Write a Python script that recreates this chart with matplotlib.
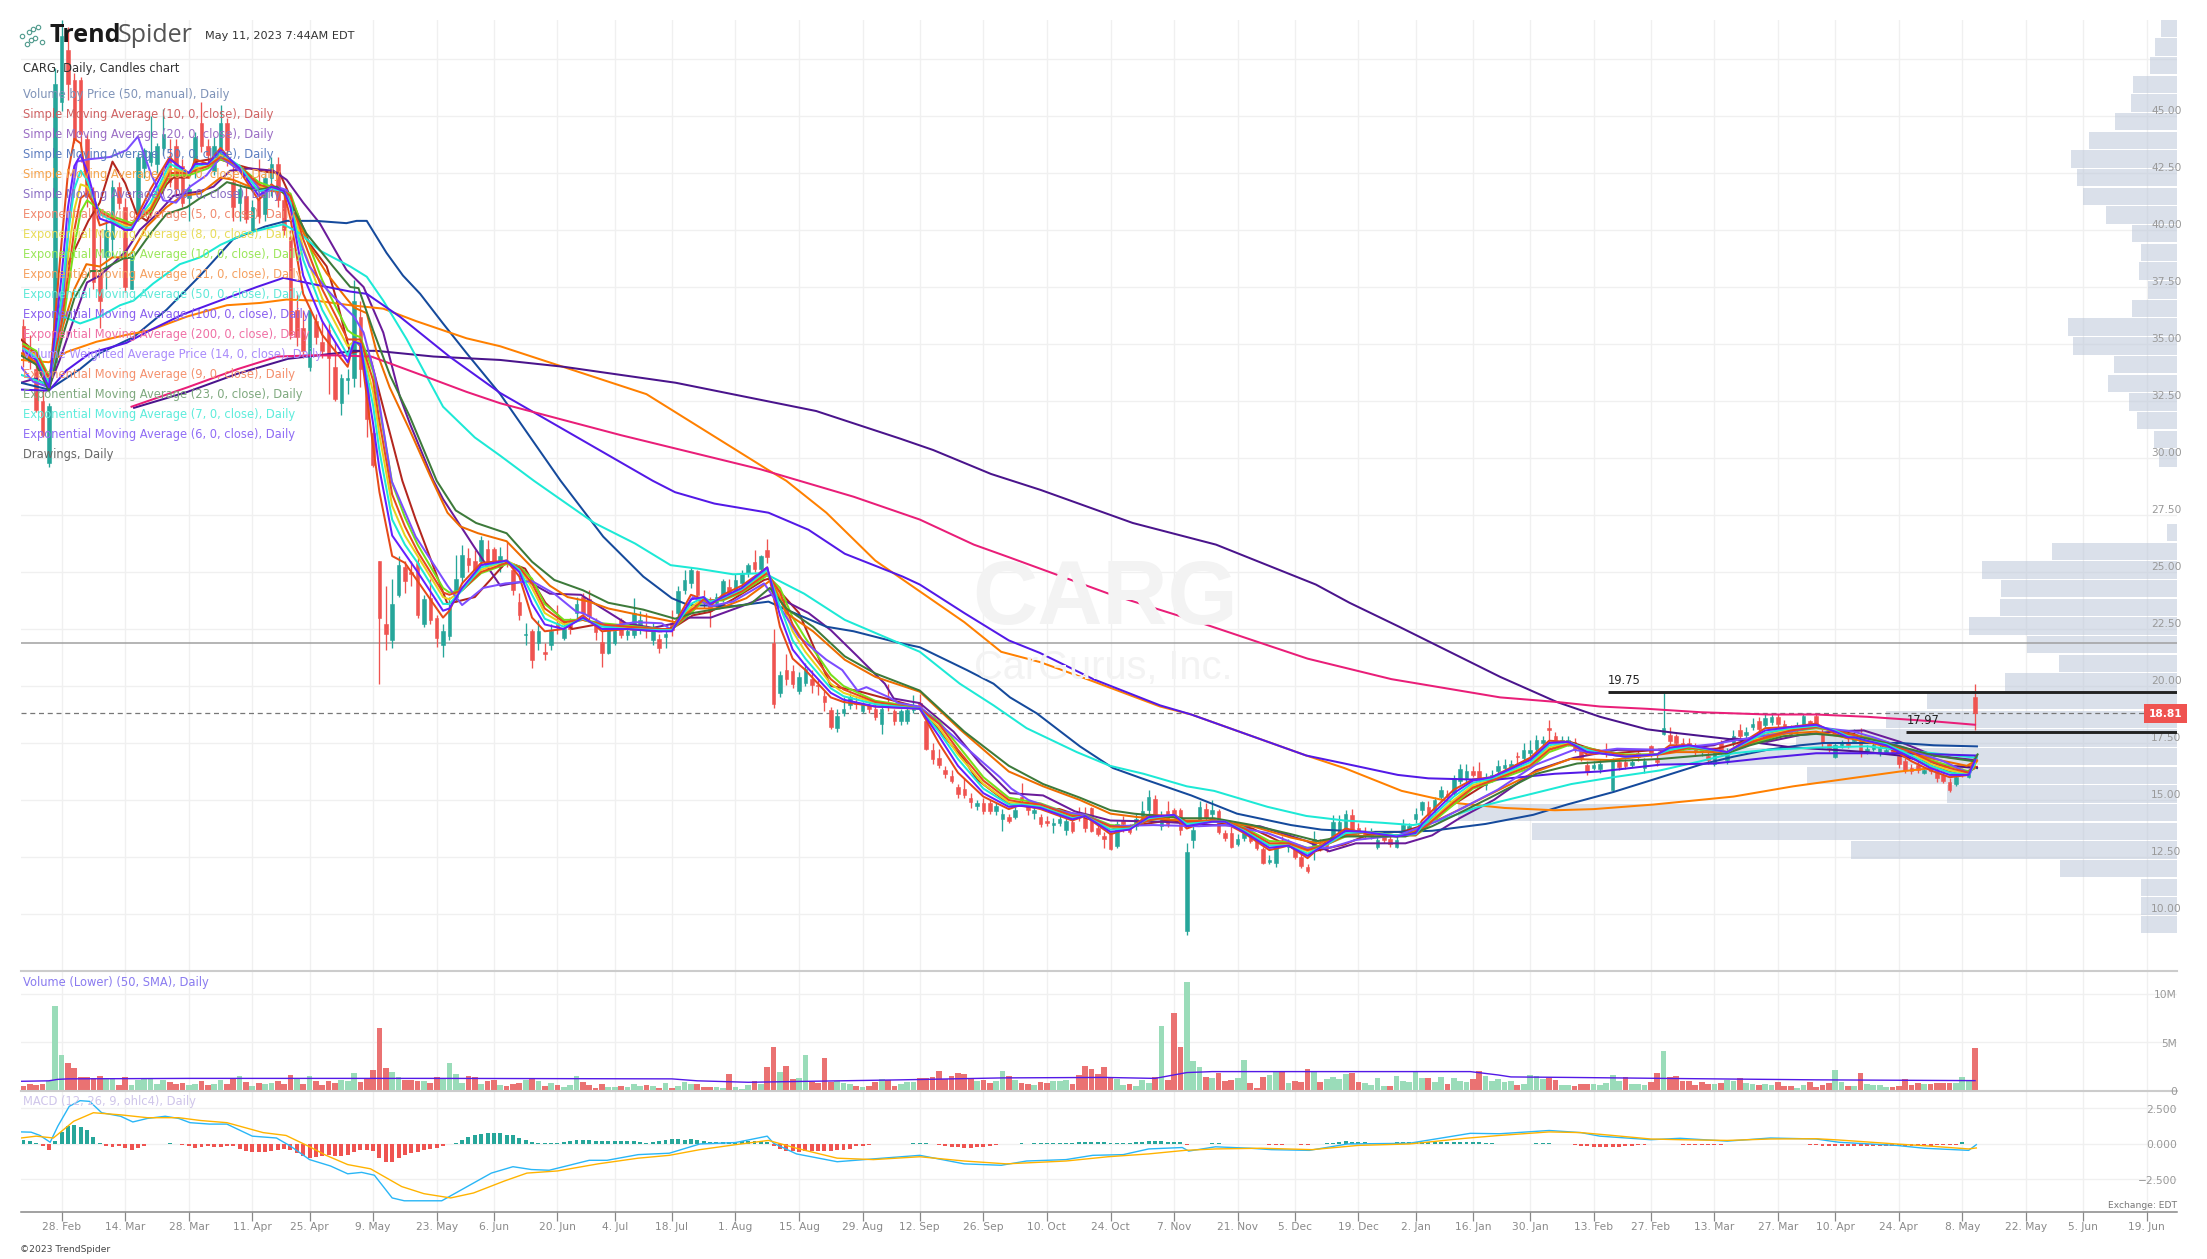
import numpy as np
import matplotlib
matplotlib.use("Agg")
import matplotlib.pyplot as plt

# bars are indexed by trading day, 0 = 28 Feb 2022
first_bar = -6
tick_pos = [0,10,20,30,39,49,59,68,78,87,96,106,116,126,135,145,155,165,175,185,194,204,213,222,231,241,250,260,270,279,289,299,309,318,328]
tick_labels = ["28. Feb","14. Mar","28. Mar","11. Apr","25. Apr","9. May","23. May","6. Jun","20. Jun","4. Jul","18. Jul","1. Aug","15. Aug","29. Aug","12. Sep","26. Sep","10. Oct","24. Oct","7. Nov","21. Nov","5. Dec","19. Dec","2. Jan","16. Jan","30. Jan","13. Feb","27. Feb","13. Mar","27. Mar","10. Apr","24. Apr","8. May","22. May","5. Jun","19. Jun"]
price_ticks = [10,12.5,15,17.5,20,22.5,25,27.5,30,32.5,35,37.5,40,42.5,45,47.5]

# open, high, low, close
candles_feb_apr = [
(35.8,36.1,34.0,34.6),(34.6,35.4,33.9,34.2),(33.9,34.2,32.0,32.1),(32.5,33.0,30.9,31.0),(29.8,32.4,29.6,32.3),(34.2,47.1,33.8,46.4),
(45.6,49.2,45.2,48.5),(47.9,48.9,45.7,46.4),(46.6,46.9,43.8,44.0),(46.6,46.7,43.0,44.2),(44.0,44.2,41.0,41.5),(41.7,41.9,37.4,37.7),
(38.1,40.0,35.7,36.9),(38.8,40.5,37.4,40.0),(39.6,42.2,38.8,41.9),(41.9,42.1,40.9,41.2),(41.0,41.4,37.3,37.5),(37.4,39.0,37.4,38.8),
(40.7,43.4,40.4,43.2),(42.7,43.6,42.3,43.5),(43.0,45.0,42.8,43.4),(42.9,43.8,42.5,43.7),(43.6,45.3,43.3,44.2),(43.2,44.0,41.9,42.1),
(43.7,44.0,41.5,41.8),(42.8,43.1,41.0,41.2),(41.4,42.0,40.4,41.8),(42.6,44.3,42.3,44.1),(44.7,45.6,43.4,43.7),(43.7,44.0,43.0,43.3),
(42.6,44.1,42.4,43.7),(43.6,45.5,43.3,44.7),(44.7,44.9,42.8,43.5),(42.1,43.0,40.4,41.0),(41.2,42.0,40.4,41.8),(41.5,41.9,40.3,40.5),
(40.0,41.3,39.8,41.0),(41.3,43.1,40.3,40.6),(40.7,42.5,40.4,42.3),(42.3,43.2,41.5,42.9),(42.9,43.2,41.0,41.3),(41.3,41.5,39.8,40.0),
(39.7,40.0,35.2,35.4),(36.5,37.2,34.9,35.3),(35.7,36.5,34.4,34.7)]
candles_apr_jun = [
(34.0,36.6,33.8,36.5),(36.0,36.3,35.0,35.3),(35.1,36.0,34.4,34.7),(35.6,35.9,32.8,34.4),(34.0,35.1,32.5,32.6),(32.4,33.7,31.9,33.5),
(33.4,33.9,32.8,33.5),(33.5,37.8,33.1,36.9),(36.2,36.9,33.1,33.9),(33.3,33.6,30.9,31.7),(31.1,31.4,29.6,29.7),(25.5,25.5,20.1,23.0),
(22.7,24.4,21.6,22.3),(22.0,24.7,21.65,23.6),(24.0,25.7,23.9,25.3),(25.2,25.5,24.1,24.6),(25.0,25.5,24.4,24.9),(25.4,25.6,23.0,23.1),
(22.7,24.0,22.6,23.8),(23.85,24.7,22.7,22.9),(23.0,23.1,21.7,22.1),(21.8,22.7,21.25,22.4),(22.2,23.9,22.0,23.4),(23.9,25.75,23.7,24.7),
(24.8,26.2,24.5,25.75),(25.6,26.05,25.0,25.3),(25.5,25.95,24.8,25.1),(25.5,26.6,25.3,26.4),(26.0,26.4,25.2,25.4),(26.0,26.1,25.3,25.5),
(25.2,26.1,25.0,25.7),(25.5,26.3,25.2,25.4),(25.1,25.4,24.0,24.2),(23.7,24.1,22.9,23.1),(22.25,22.75,21.8,22.3),(22.4,22.5,20.8,21.15),
(21.9,22.9,21.6,22.4),(21.5,21.9,21.15,21.4),(21.8,22.7,21.6,22.4),(22.75,23.55,22.3,22.6)]
candles_jun_aug = [
(22.1,22.9,22.0,22.5),(22.75,23.0,22.3,22.5),(23.2,23.9,23.0,23.6),(23.9,24.1,23.0,23.2),(23.8,24.2,22.9,23.05),(22.75,23.0,22.0,22.35),
(21.95,22.4,20.85,21.45),(21.45,22.6,21.4,22.45),(21.9,22.7,21.8,22.4),(22.9,23.0,22.1,22.25),(22.25,22.6,22.0,22.4),(22.25,23.85,22.1,23.2),
(22.6,23.3,22.3,22.9),(22.6,23.2,22.1,22.45),(22.0,22.8,21.8,22.6),(22.05,22.3,21.45,21.65),(22.15,22.5,21.65,22.3),(22.75,23.35,22.2,22.45),
(23.2,24.4,23.0,24.15),(24.2,25.1,24.05,24.65),(24.5,25.2,24.3,25.1),(25.05,25.1,23.8,24.0),(23.8,24.2,23.4,23.65),(23.5,23.9,22.6,23.3),
(23.65,24.1,23.5,23.9),(23.9,24.7,23.7,24.6),(24.35,24.7,23.9,24.05),(24.2,24.9,24.1,24.65),(24.5,25.1,24.3,24.9),(24.95,25.4,24.8,25.3),
(25.45,25.95,25.0,25.15),(25.15,25.75,25.0,25.7),(25.95,26.45,25.4,25.65)]
candles_aug_oct = [
(21.9,22.5,19.05,19.2),(19.7,20.65,19.5,20.5),(20.7,21.4,20.05,20.3),(20.65,20.9,19.9,20.1),(19.8,20.6,19.65,20.4),(20.15,21.0,20.0,20.75),
(20.3,20.7,19.7,20.05),(20.05,20.3,19.6,20.0),(19.55,19.8,18.9,19.3),(18.95,19.1,18.1,18.2),(18.15,19.0,18.0,18.7),(18.8,19.5,18.7,19.0),
(19.15,19.7,19.0,19.5),(19.3,19.5,19.0,19.2),(18.9,19.3,18.8,19.15),(19.15,19.3,18.8,19.0),(19.0,19.2,18.5,18.65),(18.35,19.2,17.9,19.0),
(19.25,20.1,18.9,19.1),(18.9,19.0,18.3,18.45),(18.45,19.0,18.3,18.9),(18.45,19.1,18.35,18.95),(18.95,19.6,18.8,19.15),(19.25,19.65,19.0,19.1),
(18.45,18.5,17.2,17.25),(17.2,17.5,16.6,16.8),(16.85,17.25,16.4,16.55),(16.3,16.5,15.95,16.15),(16.05,16.3,15.75,15.85),(15.55,15.7,15.1,15.25),
(15.5,15.95,15.1,15.2),(15.1,15.3,14.65,14.9),(14.75,15.0,14.55,14.85),(14.85,15.1,14.4,14.5),(14.85,15.0,14.4,14.5),(14.5,14.9,14.35,14.75),
(14.15,14.6,13.65,14.4),(14.25,14.4,14.0,14.1),(14.25,14.7,14.15,14.55),(15.15,15.75,14.8,15.0),(14.7,15.0,14.35,14.55),(14.45,14.8,14.15,14.55),
(14.25,14.4,13.8,13.95),(14.1,14.3,13.85,14.0),(13.9,14.2,13.55,14.0),(14.0,14.35,13.85,14.15),(13.7,14.3,13.45,14.1),(14.05,14.2,13.55,13.65)]
candles_oct_jan = [
(14.4,14.7,14.1,14.25),(14.25,14.7,13.6,13.75),(14.65,14.7,13.6,13.65),(13.75,13.9,13.4,13.5),(13.4,13.6,12.9,13.3),(13.5,13.6,12.8,12.85),
(13.0,14.1,12.9,13.95),(14.1,14.3,13.6,13.95),(13.75,13.95,13.5,13.6),(13.85,14.4,13.7,14.15),(14.2,14.95,14.0,14.5),(14.55,15.45,14.4,15.15),
(15.05,15.2,14.2,14.4),(13.85,14.5,13.7,14.15),(14.5,14.95,13.8,13.95),(14.55,14.65,14.2,14.35),(14.55,14.65,13.45,13.7),(9.25,13.1,9.1,12.7),
(13.25,13.9,12.9,13.7),(14.05,14.95,13.9,14.7),(14.6,14.85,14.0,14.2),(14.4,15.0,14.2,14.55),(14.5,14.6,13.5,13.6),(13.55,13.7,13.2,13.35),
(13.55,13.9,12.9,12.95),(13.05,13.5,13.0,13.3),(13.35,13.7,13.2,13.55),(13.55,13.7,13.1,13.2),(13.2,13.3,12.8,12.9),(12.85,12.95,12.2,12.25),
(12.3,12.6,12.2,12.35),(12.25,13.0,12.05,12.9),(13.25,13.4,13.0,13.1),(12.95,13.3,12.7,13.1),(12.85,13.1,12.4,12.5),(12.5,12.7,12.0,12.1),
(12.05,12.2,11.8,11.9),(12.75,13.65,12.35,13.3),(13.1,13.3,12.75,12.9),(13.1,13.3,12.7,12.85),(13.4,14.35,13.2,14.05),(13.55,14.35,13.4,14.05),
(13.6,14.55,13.45,14.4),(14.35,14.6,13.5,13.6),(13.75,14.0,13.4,13.55),(13.6,13.8,13.3,13.45),(13.4,13.75,13.3,13.6),(12.95,13.4,12.85,13.25),
(13.45,13.55,13.1,13.25),(13.3,13.4,12.95,13.05),(12.95,13.4,12.9,13.25),(13.55,14.15,13.45,13.9),(13.6,14.0,13.45,13.85),(14.15,14.65,14.0,14.4)]
candles_jan_mar = [
(14.55,14.95,14.35,14.9),(14.7,14.95,14.2,14.35),(14.55,15.15,14.4,15.0),(15.15,15.6,15.0,15.45),(15.25,15.45,15.0,15.15),(15.3,16.1,15.2,15.95),
(15.85,16.6,15.7,16.35),(15.95,16.6,15.8,16.25),(16.25,16.5,16.0,16.1),(16.25,16.65,15.8,15.95),(15.65,16.2,15.45,15.9),(15.95,16.3,15.8,16.1),
(16.25,16.75,16.1,16.5),(16.4,16.8,16.25,16.55),(16.4,16.75,16.3,16.6),(16.95,17.1,16.6,16.9),(16.85,17.5,16.7,17.2),(17.05,17.65,16.9,17.2),
(17.25,17.85,17.1,17.65),(17.5,17.8,17.4,17.65),(18.15,18.5,17.6,18.05),(17.8,18.0,17.5,17.65),(17.5,17.8,17.4,17.65),(17.5,17.8,17.35,17.65),
(17.55,17.7,17.1,17.25),(17.2,17.3,16.7,16.85),(16.55,16.7,16.1,16.25),(16.4,16.7,16.3,16.55),(16.35,16.8,16.2,16.6),(17.2,17.5,16.9,17.05),
(15.45,16.85,15.35,16.7),(16.65,16.8,16.3,16.45),(16.65,16.8,16.35,16.5),(16.55,16.8,16.45,16.65),(17.05,17.2,16.7,16.9),(16.4,16.85,16.2,16.7),
(17.35,17.4,16.9,17.05),(16.75,17.0,16.5,16.65),(17.9,19.7,17.85,18.15),(17.85,18.2,17.45,17.6),(17.8,17.9,17.35,17.5),(17.5,17.7,17.2,17.35),
(17.5,17.7,17.25,17.35),(17.35,17.5,16.95,17.1),(17.1,17.3,16.95,17.2),(16.95,17.1,16.6,16.75),(16.6,17.2,16.5,17.05),(17.5,17.65,17.0,17.1)]
candles_mar_may = [
(16.75,17.3,16.6,17.1),(17.5,18.05,17.35,17.8),(18.05,18.35,17.65,17.8),(17.85,18.2,17.7,18.0),(18.2,18.6,18.05,18.35),(18.45,18.65,17.95,18.1),
(18.3,18.75,18.2,18.6),(18.4,18.75,18.3,18.65),(18.65,18.75,18.2,18.35),(18.35,18.5,18.0,18.15),(18.2,18.3,17.8,17.9),(18.05,18.4,17.9,18.3),
(18.35,18.8,18.25,18.7),(18.45,18.5,18.15,18.3),(18.7,18.8,18.2,18.3),(17.85,18.1,17.3,17.5),(17.45,17.55,17.1,17.3),(16.9,17.5,16.85,17.4),
(17.4,17.65,17.3,17.55),(17.55,17.7,17.3,17.4),(17.6,18.1,17.5,17.75),(17.7,18.15,16.9,17.1),(17.1,17.4,17.0,17.25),(17.25,17.55,17.15,17.4),
(17.1,17.45,16.95,17.3),(17.1,17.35,17.0,17.2),(17.35,17.45,17.0,17.1),(16.95,17.1,16.4,16.6),(16.7,16.85,16.2,16.3),(16.4,16.6,16.15,16.25),
(16.55,16.7,16.2,16.3),(16.2,16.45,16.15,16.3),(16.4,16.5,16.15,16.25),(16.25,16.4,15.8,15.95),(16.1,16.25,15.75,15.85),(15.8,15.95,15.35,15.45),
(15.7,16.1,15.6,16.0),(16.3,16.4,16.0,16.1),(16.0,16.35,15.95,16.15),(19.5,20.1,18.07,18.81)]

# volume in millions, split by stretch of the chart
vol_1 = [.5,.7,.65,.75,1.0,8.8,3.7,2.9,2.4,1.45, 1.45,1.3,1.55,1.3,1.3,.6,1.45,.6,1.15,1.25, 1.3,.7,1.1,.9,.75,.8,.6,.7,1.0,.6, .7,1.1,.7,1.25,1.55,.9,.5,.8,.75,.85,
         1.0,.75,1.65,1.3,.7,1.55,1.0,.6,1.0,.85, 1.1,1.0,1.85,.9,1.25,2.2,6.5,2.4,2.0,1.45, 1.15,1.15,1.05,1.05,.85,1.45,1.25,2.9,1.75,.85, 1.55,1.45,.7,1.05,1.15,.6,.5,.7,.85,1.15]
vol_2 = [1.25,1.05,.5,.85,.6,.45,.6,1.55,.9,.6, .3,.7,.4,.4,.5,.4,.7,.5,.6,.5, .3,.85,.3,.5,.9,.7,.7,.4,.4,.4, .3,1.75,.4,.2,.6,1.05,.7,2.5,4.55,2.0,
         2.6,1.25,1.35,3.7,.9,.85,3.4,.9,1.05,.85, .7,.5,.4,.5,.9,1.25,1.15,.5,.7,.9, .9,1.35,1.35,1.45,2.05,1.25,1.55,1.85,1.75,1.25, 1.05,1.15,.85,1.05,2.05,1.55,1.15,.85,.7,.6]
vol_3 = [.9,.85,1.05,1.05,1.15,.7,1.65,2.6,2.3,1.75, 2.5,1.35,1.25,.6,.7,.5,1.15,.85,1.45,6.7, 1.15,8.0,4.55,11.2,3.1,2.5,1.45,1.35,1.85,1.05, 1.15,1.35,3.2,.85,.3,1.45,1.65,2.0,2.05,.85,
         1.05,.9,2.3,2.05,.9,1.25,1.45,1.25,1.75,1.85, .9,.85,.6,1.35,.5,.5,1.55,1.05,.9,2.05, 1.35,1.35,.9,1.45,.7,1.35,1.05,.9,1.25,2.05, 1.55,1.05,1.25]
vol_4 = [.93,1.03,.62,.72,1.66,1.55,1.24,1.34,1.14,.62, .62,.52,.72,.72,.72,.62,.83,1.66,1.03,1.45, .72,.72,.62,.93,1.86,4.14,1.45,1.55,1.03,1.03, .62,.93,.72,.72,.83,1.14,1.03,1.34,.83,.72,
         .62,.72,.62,.93,.52,.52,.31,.62,.93,.41, .62,.83,2.17,.93,.52,.52,1.86,.72,.62,.62, .41,.41,.52,1.24,.62,.83,.72,.72,.83,.83, .83,.83,1.45,1.03,4.45]
vol_dirs = ("rrrrgggrrr" "rrrggrrggg" "gggrrrggrr" "ggrrgrgrgg" "rrrgrgrrrr" "gggrrrrrgg" "rrrgrrgggg" "rrgrrgrrrg"
            "rgrgrgggrr" "rrggrgggrg" "rgrgggrrrg" "grgggrgrrg" "rrggrrrrgg" "grgrrgrrgg" "grrrrrrrrr" "grrggrgrrg"
            "rrgggrrrrr" "rrggrgggrg" "rrrgggrgrr" "rggrrrggrg" "rrrgrggggr" "rggggrgggg" "grggrgggrr" "ggg"
            "ggrggggrrg" "grrrgggggr" "gggrrgrrrr" "rrrgrggrgg" "rggrrrggrr" "rrggrgrggg" "grrrrrgrrr" "rgggr")
vol_sma = [(-6.4,1.0),(-2,1.05),(-.6,1.2),(1,1.25),(20,1.3),(60,1.3),(96,1.25),(100,1.05),(108,.9),(132,1.15),(148,1.35),(164,1.4),(172,1.3),(177,1.9),(181,2.0),(213,2.0),(221.6,2.0),(226,1.65),(228,1.45),(237,1.4),(255,1.28),(276,1.15),(301,1.07)]

macd_hist_1 = [.3,.2,.05,-.17,-.4,.2,.85,1.3,1.35,1.2, .95,.5,.05,-.12,-.2,-.17,-.25,-.4,-.3,-.17, -.03,0,0,.05,0,-.05,-.17,-.28,-.2,-.17, -.2,-.2,-.17,-.17,-.35,-.47,-.55,-.57,-.55,-.47,
               -.4,-.35,-.4,-.65,-.83,-1.0,-.95,-.88,-.8,-.83, -.83,-.76,-.57,-.4,-.45,-.47,-.97,-1.24,-1.3,-1.0, -.75,-.65,-.57,-.4,-.33,-.28,-.12,0,.07,.3, .5,.6,.7,.75,.75,.75,.66,.6,.43,.26]
macd_hist_2 = [.12,.1,.07,.05,.07,.12,.2,.28,.3,.26, .2,.2,.2,.2,.24,.24,.2,.12,.1,.12, .24,.28,.35,.38,.3,.38,.3,.2,.15,.17, .17,.17,.15,.2,.2,.2,.24,.17,-.12,-.33, -.47,-.5,-.55,-.47,-.47,-.47,-.47,-.47,-.45,-.42,
               -.33,-.17,-.12,-.07,0,0,.02,.02,.02,.02, .07,.1,.07,0,-.1,-.17,-.2,-.24,-.26,-.26, -.24,-.2,-.17,-.1,0,0,.02,.05,.02,.05]
macd_hist_3 = [.05,.05,.05,.05,.07,.07,.12,.17,.17,.12, .12,.05,.07,.07,.07,.12,.14,.2,.2,.19, .17,.17,.12,-.05,0,.02,.02,.07,.07,.02, .02,0,0,0,0,0,-.07,-.07,-.07,0, 0,-.07,-.07,0,.02,.07,.07,.14,.2,.17,
               .12,.12,.1,.07,.07,.05,.12,.14,.14,.14, .14,.14,.14,.17,.17,.17,.17,.17,.12,.12, .07,.05,.02,.02,.02,.02,.02,.02,.1,.05, .05,0,0,0,-.1,-.15,-.17,-.2,-.2,-.2, -.24,-.2,-.17,-.15,-.1,-.07,0,0,0,0,
               0,-.07,-.07,-.07,-.1,-.07,-.07,-.07,0,0, .02,.02,.02,.02,.02,.02,.02,0,0,0, 0,-.05,-.1,-.14,-.14,-.12,-.14,-.14,-.16,-.16, -.17,-.17,-.17,-.17,-.17,-.14,-.14,-.14,-.12,-.12, -.12,-.1,-.1,-.1,-.07,.17]
macd_line = [(-6.4,.85),(-4.8,.83),(-3.4,.6),(-1.8,.12),(-.6,1.25),(1.2,2.65),(2.9,3.05),(4.4,3.0),(6.3,2.2),(9.3,1.95),(11.2,1.55),(13.5,1.8),(16.3,1.95),(18.4,1.8),(20.2,1.5),(23.3,1.4),(26,1.4),(30,.55),(33.8,.42),(36,-.15),(39,-1.1),(42.3,-1.55),(45,-2.1),(47.2,-2.0),(49.2,-2.2),(52,-3.8),(53.9,-4.0),(59.8,-4.0),(61.2,-3.65),(67.6,-2.05),(71,-1.6),(73.9,-1.8),(76.7,-1.85),(83,-1.15),(85.8,-1.15),(90.7,-.75),(95.6,-.65),(100.4,0),(106,.1),(111,.55),(112,.05),(115.6,-.7),(122,-1.25),(127.7,-1.05),(135,-.8),(142,-1.4),(147.8,-1.5),(151.8,-1.2),(158,-1.1),(162.2,-.8),(167,-.75),(171,-.35),(176.3,-.25),(177.3,-.5),(181.5,-.2),(187,-.3),(190.3,-.4),(196.3,-.45),(202.3,0),(212,.05),(221.6,.75),(226.2,.72),(234,.95),(239,.8),(242,.55),(250,.3),(254.6,.4),(262,.2),(268.8,.42),(276,.35),(279.6,.12),(288.6,-.1),(293,-.3),(300,-.45),(301.2,-.05)]
macd_signal = [(-6.4,.42),(-4,.55),(-1.3,.42),(1.9,1.6),(5,2.2),(9.3,2.05),(13.5,1.85),(18.4,1.85),(21.9,1.65),(26,1.5),(31.7,.8),(35.3,.6),(38.8,-.15),(41.6,-.8),(45,-1.45),(48.6,-1.75),(53.5,-3.0),(57,-3.5),(61.2,-3.8),(64.8,-3.45),(69.7,-2.6),(73.2,-2.05),(78,-1.9),(84.4,-1.4),(90.7,-1.0),(95.6,-.8),(100.4,-.4),(106,-.05),(111.2,.25),(115.6,-.3),(122,-1.0),(127.7,-1.1),(135,-.9),(142,-1.2),(148.6,-1.4),(158,-1.2),(164.6,-.9),(171,-.7),(176.7,-.45),(181.5,-.35),(188.7,-.3),(196.7,-.4),(204,-.1),(212,0),(220.8,.4),(226.2,.6),(234,.85),(239,.8),(244,.6),(250,.35),(254.6,.3),(262,.25),(268.8,.35),(276,.37),(279.6,.28),(288.6,0),(293.9,-.15),(300,-.35),(301.2,-.28)]

# volume by price, rows from the bottom, width in screen px of the profile
vbp_low = 9.12
vbp_step = 0.819
vbp_width = [36,36,36,117,326,645,719,230,370,519,381,291,250,172,118,150,208,177,176,195,125,10,0,0,0,18,23,40,48,69,63,104,109,45,29,38,36,45,71,94,100,106,88,62,46,44,27,22,16]

# the short averages share these knots
fan_x = [-6,-4,-2,0,1,2,3,4,6,8, 10,11,14,17,20,21,23,25,28,31, 33,35,36,38,41,45,46,47,49,50, 52,54,56,60,61,63,66,70,72,74,
         76,79,82,85,89,94,96,99,101,102, 104,107,111,113,115,117,121,123,128,135, 138,141,145,149,151,154,159,161,165,168,
         171,175,177,181,183,186,190,193,196,199, 202,205,210,213,214,219,222,225,231,234, 237,240,242,246,251,253,256,262,268,272, 276,279,281,282,284,287,291,294,297,300, 301]
ema5 = [34.6,34.1,33.0,39.5,42.5,44.0,43.8,42.0,40.2,40.4, 40.0,40.1,41.8,43.2,42.3,43.1,42.9,43.6,42.6,41.3, 42.0,41.6,40.5,37.2,35.4,34.0,35.2,34.9,30.5,28.5, 25.7,25.4,24.6,23.0,23.3,24.5,25.4,25.5,24.8,23.0,
        22.4,22.5,23.1,22.4,22.5,22.4,22.5,24.0,23.8,23.5, 24.0,24.4,25.2,22.6,21.2,20.7,19.5,19.3,19.1,19.0, 17.5,16.2,15.15,14.6,14.8,14.6,14.1,14.3,13.5,13.75,
        14.35,14.3,13.75,14.15,14.0,13.55,12.8,13.0,12.45,13.2, 13.75,13.55,13.4,13.6,14.1,15.45,15.9,16.0,16.85,17.6, 17.55,17.0,17.05,16.9,17.0,17.4,17.4,17.1,18.15,18.2, 18.35,17.9,17.7,17.8,17.55,17.4,16.7,16.3,16.0,16.1, 16.9]
ema6 = [34.7,34.3,33.1,38.0,41.0,42.8,43.3,42.6,40.5,40.3, 40.0,40.0,41.5,43.1,42.5,42.9,42.9,43.5,42.7,41.5, 41.9,41.7,41.0,38.0,36.0,34.2,35.1,35.0,31.5,29.5, 26.6,25.8,25.0,23.3,23.4,24.3,25.3,25.5,25.0,23.6,
        22.7,22.5,23.0,22.5,22.5,22.4,22.4,23.8,23.9,23.6, 23.9,24.3,25.2,23.1,21.6,20.9,19.7,19.4,19.1,19.0, 17.8,16.5,15.3,14.7,14.75,14.65,14.15,14.3,13.6,13.7,
        14.25,14.35,13.85,14.05,14.05,13.6,12.9,13.0,12.55,13.1, 13.65,13.6,13.4,13.55,13.95,15.3,15.85,16.0,16.75,17.5, 17.55,17.1,17.05,16.9,17.0,17.3,17.4,17.1,18.05,18.2, 18.3,18.0,17.75,17.75,17.6,17.4,16.85,16.4,16.1,16.1, 16.75]
ema7 = [34.8,34.4,33.3,37.0,39.8,41.8,42.6,42.2,40.7,40.4, 40.1,40.1,41.2,42.9,42.5,42.8,42.9,43.4,42.8,41.7, 41.8,41.7,41.2,38.7,36.5,34.5,35.1,35.0,32.3,30.3, 27.3,26.2,25.4,23.6,23.6,24.2,25.2,25.5,25.1,24.0,
        22.95,22.6,22.95,22.6,22.5,22.45,22.45,23.6,23.9,23.7, 23.85,24.25,25.1,23.5,22.0,21.2,19.9,19.55,19.2,19.0, 18.0,16.8,15.5,14.8,14.8,14.7,14.2,14.3,13.7,13.75,
        14.2,14.35,13.95,14.05,14.05,13.65,13.0,13.0,12.65,13.05, 13.55,13.6,13.45,13.5,13.85,15.15,15.75,15.95,16.65,17.4, 17.55,17.2,17.05,16.9,17.0,17.2,17.35,17.1,17.95,18.15, 18.25,18.05,17.8,17.75,17.6,17.45,16.95,16.5,16.2,16.1, 16.6]
ema8 = [34.9,34.5,33.4,36.3,38.8,40.9,42.0,41.9,40.8,40.4, 40.2,40.2,41.0,42.7,42.5,42.7,42.8,43.3,42.8,41.9, 41.8,41.7,41.4,39.2,37.0,34.9,35.1,35.1,32.9,31.0, 27.9,26.6,25.7,23.9,23.8,24.2,25.1,25.5,25.2,24.3,
        23.2,22.7,22.9,22.65,22.55,22.5,22.45,23.45,23.85,23.75, 23.8,24.2,25.0,23.9,22.4,21.5,20.1,19.7,19.25,19.0, 18.2,17.0,15.7,14.9,14.85,14.75,14.25,14.3,13.8,13.75,
        14.15,14.35,14.0,14.05,14.05,13.7,13.05,13.05,12.75,13.05, 13.5,13.6,13.45,13.5,13.75,15.0,15.65,15.9,16.55,17.3, 17.5,17.25,17.1,16.9,17.0,17.15,17.3,17.1,17.85,18.1, 18.2,18.05,17.85,17.8,17.65,17.45,17.05,16.6,16.3,16.15, 16.5]
ema9 = [34.9,34.6,33.5,35.9,38.0,40.0,41.4,41.6,40.8,40.5, 40.3,40.2,40.9,42.5,42.5,42.6,42.8,43.2,42.8,42.0, 41.8,41.7,41.5,39.6,37.4,35.2,35.2,35.2,33.4,31.6, 28.4,27.0,25.9,24.1,24.0,24.2,25.0,25.4,25.2,24.5,
        23.4,22.8,22.9,22.7,22.6,22.5,22.5,23.3,23.8,23.75, 23.8,24.15,24.95,24.1,22.7,21.8,20.3,19.85,19.3,19.0, 18.35,17.2,15.85,15.0,14.9,14.8,14.3,14.3,13.85,13.8,
        14.1,14.35,14.05,14.05,14.05,13.75,13.1,13.1,12.8,13.05, 13.45,13.6,13.45,13.45,13.7,14.9,15.55,15.85,16.5,17.2, 17.45,17.25,17.15,16.95,17.0,17.1,17.3,17.1,17.75,18.05, 18.2,18.05,17.9,17.85,17.7,17.5,17.1,16.7,16.4,16.2, 16.45]
ema10 = [35.0,34.7,33.6,35.5,37.4,39.3,40.8,41.3,40.9,40.6, 40.4,40.3,40.8,42.4,42.4,42.5,42.7,43.1,42.8,42.1, 41.9,41.7,41.6,40.0,37.8,35.6,35.4,35.3,33.8,32.2, 28.9,27.4,26.2,24.3,24.1,24.2,24.95,25.35,25.25,24.7,
         23.6,22.9,22.9,22.75,22.65,22.5,22.5,23.2,23.75,23.75, 23.75,24.1,24.85,24.3,23.0,22.1,20.5,20.0,19.35,19.05, 18.45,17.4,16.0,15.1,15.0,14.85,14.35,14.35,13.9,13.85,
         14.1,14.3,14.05,14.05,14.05,13.8,13.2,13.15,12.9,13.05, 13.4,13.6,13.45,13.45,13.65,14.8,15.5,15.8,16.4,17.1, 17.4,17.3,17.15,17.0,17.0,17.1,17.25,17.1,17.65,18.0, 18.15,18.05,17.9,17.85,17.75,17.55,17.15,16.75,16.5,16.25, 16.4]

ema21 = [(-6.4,34.6),(-4,34.2),(-2,33.05),(0,35.6),(2,37.4),(3.9,38.5),(6,38.4),(8,38.8),(10,38.8),(11,39.0),(13.4,40.15),(16.5,41.0),(19,41.5),(21.8,41.6),(25,42.3),(27,42.2),(29.6,41.9),(33.3,41.7),(35,41.7),(36.4,40.9),(39,39.3),(41.7,38.1),(44.8,37.0),(46,36.6),(48,36.35),(49.5,34.7),(51.6,33.1),(54.8,31.2),(58,29.2),(60.7,27.6),(62.7,27.0),(65.5,26.7),(70,26.35),(74,25.2),(76.8,24.4),(79.6,23.9),(83,23.7),(86,23.4),(89.4,23.2),(93,23.0),(96.5,22.8),(99.3,23.4),(103.5,23.4),(107.7,23.85),(111.6,24.65),(114,23.2),(118.2,22.4),(123.2,21.15),(128,20.4),(135,19.75),(141.3,18.1),(149,16.25),(154.4,15.6),(160.2,15.0),(165,14.4),(169.3,14.25),(176.5,14.1),(181.3,14.1),(187.3,13.85),(193.4,13.35),(197.6,13.1),(201.8,13.45),(207.8,13.4),(211.4,13.45),(215.6,14.0),(220.4,14.65),(224.7,15.25),(232,16.25),(237.3,16.8),(243.6,16.75),(251.5,17.0),(254,17.1),(262,17.1),(265.6,17.55),(270.9,17.9),(276,18.0),(284,17.55),(289.2,17.2),(294.5,16.8),(299.7,16.5),(301.3,16.75)]
ema23 = [(-6.4,34.5),(-4,34.1),(-2,32.95),(0,35.2),(2,37.0),(4.5,38.2),(6,38.2),(8,38.5),(9.7,38.75),(11.3,38.8),(14,39.85),(16.5,40.7),(19.7,41.0),(21.8,41.4),(24.4,41.75),(26,42.1),(28.6,41.9),(30.7,41.75),(33.8,41.9),(35.4,41.5),(38.5,39.85),(42.7,38.4),(45.4,37.5),(46.7,37.45),(49,35.6),(51.7,33.6),(54.8,31.8),(59,29.0),(62,27.7),(65.2,27.15),(70,26.7),(74,25.45),(77.5,24.65),(82,24.2),(86,23.65),(91.5,23.35),(96.5,22.95),(99.3,23.2),(103.5,23.4),(108.4,23.6),(111.4,24.3),(114,23.4),(118.2,22.6),(123.2,21.3),(128,20.55),(135,19.8),(142,18.0),(149,16.5),(154.4,15.7),(160.2,15.1),(165,14.55),(168.7,14.4),(176.5,14.2),(181.3,14.2),(187.3,13.9),(193.4,13.5),(197.6,13.2),(201.8,13.4),(207.8,13.4),(211.4,13.4),(215.6,13.85),(220.4,14.5),(224.7,15.1),(232,16.15),(238.4,16.6),(243.6,16.7),(251.5,16.8),(262,17.05),(265.6,17.4),(270.9,17.8),(276,17.9),(284,17.7),(289.2,17.35),(294.5,16.95),(300.8,16.7),(301.4,17.0)]
sma10 = [(-6.4,35.2),(-4,34.6),(-2,33.0),(-.5,36.2),(.8,38.4),(4.2,40.4),(6,41.2),(8,43.0),(10,42.05),(11.8,40.7),(13.4,40.4),(16.5,42.0),(17.6,42.3),(20,42.3),(21.2,43.0),(24.4,43.15),(27,42.9),(29.6,42.7),(32.2,42.55),(34.3,42.5),(36.4,41.2),(39,39.4),(41.7,38.4),(43.3,36.9),(45.4,34.6),(47,34.7),(48.5,34.45),(53.6,29.0),(55.7,27.3),(60.7,23.6),(65,23.9),(70,25.45),(72.9,25.15),(76.1,23.65),(80.3,22.5),(84.2,22.7),(88.8,22.5),(94.4,22.4),(96.5,22.6),(99.3,23.1),(102,23.25),(105.6,23.8),(110.5,24.65),(111.2,24.7),(116,23.2),(121,20.0),(125,19.8),(135,19.05),(142,16.75),(144,15.9),(149.2,14.8),(153.6,14.65),(157,14.6),(162.3,14.1),(165.7,13.75),(174,14.1),(177,14.05),(181.3,14.05),(187.3,13.75),(192.2,13.1),(197,12.75),(201.8,13.05),(206.6,13.6),(210.8,13.6),(213.8,13.85),(219.2,14.85),(223.5,15.6),(228.3,16.45),(234.3,17.3),(237.3,17.55),(240.5,17.25),(244,17.05),(251,17.2),(260.4,17.25),(265.6,17.65),(269.8,18.0),(276,18.2),(278.7,18.05),(281.9,17.9),(288,17.2),(294.5,16.45),(298.7,16.1),(301.3,16.45)]
sma20 = [(-6.4,33.3),(-4,33.5),(-2,33.1),(-.3,34.3),(1.8,36.0),(4,37.7),(6,38.0),(8,38.5),(10.2,39.1),(12.3,40.0),(15,40.7),(17.6,41.5),(21.8,41.7),(23.9,41.9),(26.5,42.6),(29.6,42.7),(33.3,42.6),(35.4,42.2),(38,41.2),(40.6,40.3),(44.8,38.25),(47.5,37.5),(50.6,35.5),(53.2,32.7),(54.8,31.5),(58.5,29.0),(60,28.2),(64.9,26.1),(69,24.4),(70.8,24.5),(73.3,24.6),(76.8,24.05),(81.7,24.0),(84.5,23.5),(88.8,22.75),(93,22.55),(96.5,22.75),(98.6,23.0),(102.1,23.0),(107,23.5),(111.6,24.0),(114,23.7),(117.5,23.2),(121,22.45),(125.2,21.3),(129.5,20.1),(130.9,19.45),(135,19.25),(140.3,18.0),(144.5,16.6),(149.2,15.3),(154.4,15.2),(159.4,14.5),(165,14.1),(172.9,14.05),(181.3,13.9),(188.5,13.85),(195.8,13.2),(199.4,12.75),(203.6,13.1),(211.4,13.1),(215.6,13.45),(219.9,14.2),(225.3,15.0),(231.9,16.3),(237.9,16.85),(244.7,17.2),(252.5,17.2),(259.9,17.4),(263,17.7),(268.3,17.55),(273.5,17.85),(278.7,18.0),(283.5,18.05),(289.2,17.55),(294.5,16.95),(301,16.75)]
vwap14 = [(-6.4,34.0),(-4.5,33.35),(-2,33.1),(.2,36.9),(1.2,40.5),(2.4,43.0),(4.2,43.1),(7.6,43.2),(10.2,43.5),(12,44.1),(14,42.5),(16,41.3),(18,41.2),(20.2,41.9),(22.8,42.4),(25,43.2),(28,42.6),(30,42.2),(31.7,41.6),(33.8,41.9),(35.4,41.75),(37,39.85),(39,38.4),(41.4,37.5),(42.7,37.1),(46,36.2),(47.5,35.5),(49.3,33.6),(51.9,29.0),(55.7,26.55),(60.7,24.4),(63,23.55),(66.3,24.3),(69.8,24.5),(74,24.6),(77.5,24.05),(81,23.25),(82,23.2),(86,22.6),(90.2,22.8),(94.4,22.75),(96,22.45),(99.3,23.9),(102.1,23.5),(105.6,23.7),(110.5,24.5),(112,23.9),(116,22.15),(120.3,21.15),(122.8,20.7),(125.2,19.8),(126.6,19.95),(130.2,19.5),(131.6,19.25),(135,19.1),(144.5,16.75),(147.6,16.0),(149.4,15.5),(152.1,15.0),(157.2,14.5),(160.8,14.35),(165,13.85),(171.7,13.9),(178.9,13.85),(183.1,13.9),(189.7,13.55),(195.8,12.9),(199.4,12.9),(203.6,13.25),(210.2,13.45),(216.2,14.05),(220.4,14.65),(225.9,15.45),(231.9,16.55),(237.9,17.2),(240.5,17.1),(244.7,17.25),(251,17.2),(259.9,17.45),(264,17.65),(269.8,17.9),(276,18.2),(281.9,18.0),(285,17.75),(290.3,17.25),(296,16.7),(300.2,16.15),(301.3,16.95)]
sma50 = [(-6.4,33.3),(-2,33.0),(2.9,33.9),(6,34.6),(11.3,35.3),(16.5,36.5),(21.8,38.0),(27,39.6),(32,40.15),(35.4,40.4),(40,40.4),(44.8,40.3),(46.4,40.4),(48,40.4),(51.1,39.0),(53.7,38.0),(56.4,37.2),(60,35.9),(63.7,34.6),(69,32.8),(78.5,29.0),(85.2,26.55),(91.5,24.8),(96,23.85),(98.6,23.55),(105.6,23.5),(111.2,23.7),(114,23.35),(120.3,22.6),(124.6,22.4),(131.6,21.9),(135,21.7),(142.4,20.7),(146.6,20.1),(149.2,19.5),(153.4,18.8),(160.2,17.35),(165.4,16.4),(169.9,15.95),(177.7,15.2),(184.9,14.4),(193.4,13.9),(198.2,13.7),(205.4,13.6),(210.2,13.6),(215.6,13.65),(224,13.95),(231.5,14.35),(236.8,14.8),(244.1,15.35),(251,15.95),(257.8,16.55),(263,16.9),(268.3,17.2),(273.5,17.4),(277.2,17.5),(284,17.5),(289.2,17.5),(294.5,17.4),(301.3,17.35)]
ema50 = [(-6.4,33.65),(-2,33.2),(.3,36.2),(2.9,35.9),(6,36.2),(9.2,36.7),(11.3,36.9),(14.4,37.65),(18.6,38.5),(21.8,38.8),(25,39.35),(29,39.85),(34.9,40.25),(37.5,39.85),(40.6,39.1),(45.4,38.4),(48,37.95),(50.6,36.9),(54.3,35.2),(60,32.25),(65,30.9),(69,30.1),(74.3,29.0),(83.8,27.15),(90.2,26.25),(95.8,25.3),(100,25.15),(105.6,24.9),(110.5,24.95),(116.8,24.05),(123.2,22.9),(131.6,21.9),(135,21.5),(141.3,20.1),(146.6,19.15),(151.8,18.15),(159.7,17.1),(164.9,16.5),(170.2,16.15),(177,15.6),(181.3,15.4),(189.7,14.7),(195.8,14.3),(201.8,14.1),(207.8,14.0),(212.6,13.9),(216.8,14.1),(222.9,14.7),(231.7,15.3),(237.5,15.7),(244.1,16.0),(251.5,16.3),(257.8,16.7),(263,17.05),(268.3,17.2),(276,17.3),(284,17.35),(289.2,17.2),(294.5,17.05),(301.3,16.85)]
ema100 = [(-6.4,33.0),(-2,32.95),(.8,33.85),(4.5,34.6),(10.2,35.05),(13.9,35.6),(19.1,36.3),(24.4,36.85),(30.7,37.5),(34.9,37.9),(40,37.6),(45.4,37.3),(48,37.2),(53.2,36.2),(61,34.45),(69,32.85),(93,29.0),(96.5,28.5),(102.7,28.0),(111.2,27.6),(117.5,26.85),(123.2,25.8),(132.3,24.8),(135,24.45),(142,23.2),(149,22.0),(153.9,21.45),(162.3,20.3),(172.8,19.15),(177.7,18.75),(195.8,16.95),(201.8,16.6),(210.2,16.1),(215,15.95),(221.7,15.9),(225.9,15.9),(234.9,16.15),(242,16.25),(251.5,16.55),(259.9,16.6),(268.3,16.85),(276,17.05),(284,17.05),(289.2,17.05),(301.3,16.95)]
sma100 = [(-6.4,34.3),(-2,34.2),(.8,34.65),(5.5,35.1),(10.2,35.4),(13.9,35.6),(19.7,36.2),(26,36.7),(31.2,36.8),(35.4,36.95),(40,36.9),(45.4,36.7),(50.6,36.55),(55.8,36.0),(63.7,35.25),(69,34.9),(92,32.8),(111,29.5),(114,29.0),(120.3,27.6),(128,25.5),(135,24.15),(142,22.8),(147.8,21.5),(153.9,21.05),(162.3,20.2),(172.8,19.1),(177.7,18.75),(195.8,16.95),(201.8,16.4),(210.8,15.4),(215.6,15.1),(219.9,14.85),(227,14.65),(234.9,14.55),(241,14.6),(250.4,14.8),(263,15.15),(272.4,15.6),(281.4,15.95),(289.2,16.25),(296,16.45),(300.8,16.5),(301.3,16.7)]
ema200 = [(11,32.25),(19.8,33.1),(27.7,33.9),(34,34.45),(39.2,34.5),(43.4,34.5),(48.7,34.45),(56.5,33.65),(63.7,32.9),(69,32.4),(88,31.0),(110,29.5),(124.6,28.3),(135,27.3),(143.5,26.2),(149,25.65),(164.7,24.05),(177.8,22.9),(196,21.2),(209.2,20.3),(226.3,19.5),(235.2,19.3),(242,19.1),(249.4,19.0),(257.8,18.85),(268.3,18.75),(276,18.75),(284,18.65),(294.5,18.45),(301,18.3)]
sma200 = [(11.4,32.2),(19.8,32.9),(27.7,33.7),(35.6,34.35),(43.4,34.6),(46,34.7),(49.5,34.7),(58.5,34.45),(69,34.3),(79,34.0),(96.6,33.3),(118.7,32.06),(131.9,30.85),(137.1,30.35),(146.2,29.3),(154,28.6),(168.5,27.15),(181.6,26.2),(197.3,24.45),(202.6,23.65),(210.4,22.6),(226.3,20.4),(235.2,19.3),(242,18.65),(249.4,18.1),(253.6,17.95),(263,17.65),(272.4,17.3),(278.7,17.2),(284,17.1),(289.2,16.95),(295,16.55),(301.3,16.4)]

legend_names = ["Volume by Price (50, manual), Daily","Simple Moving Average (10, 0, close), Daily","Simple Moving Average (20, 0, close), Daily","Simple Moving Average (50, 0, close), Daily","Simple Moving Average (100, 0, close), Daily","Simple Moving Average (200, 0, close), Daily","Exponential Moving Average (5, 0, close), Daily","Exponential Moving Average (8, 0, close), Daily","Exponential Moving Average (10, 0, close), Daily","Exponential Moving Average (21, 0, close), Daily","Exponential Moving Average (50, 0, close), Daily","Exponential Moving Average (100, 0, close), Daily","Exponential Moving Average (200, 0, close), Daily","Volume Weighted Average Price (14, 0, close), Daily","Exponential Moving Average (9, 0, close), Daily","Exponential Moving Average (23, 0, close), Daily","Exponential Moving Average (7, 0, close), Daily","Exponential Moving Average (6, 0, close), Daily","Drawings, Daily"]
legend_colors = ["#7f93b8","#cf6263","#9a6dc4","#5c7cc0","#f5a24a","#8a6ec4","#f08a6e","#e8dc5a","#9be659","#f5a060","#5fe8d8","#8a60ef","#ef70a5","#a98bfb","#f4906e","#7fa97f","#5eecdc","#8f6cf5","#666666"]

W, H = 2207, 1259
LEFT, RIGHT = 21, 2177
GRID = "#f0f0f0"
GREEN, RED = "#26a69a", "#ef5350"
XLIM = (-6.39, 332.77)

plt.rcParams["font.family"] = ["DejaVu Sans"]
fig = plt.figure(figsize=(W/100, H/100), dpi=100, facecolor="white")

def pane(top, bottom, z=1):
    a = fig.add_axes([LEFT/W, 1-bottom/H, (RIGHT-LEFT)/W, (bottom-top)/H], zorder=z)
    a.set_xlim(*XLIM)
    for s in a.spines.values():
        s.set_visible(False)
    a.patch.set_visible(False)
    return a

def grid_on(a):
    a.set_xticks(tick_pos)
    a.grid(True, color=GRID, lw=1.0)
    a.set_axisbelow(True)
    a.tick_params(length=0, labelbottom=False, labelleft=False)

# price pane: grid, then profile, then candles and lines on top
ax_grid = pane(20, 971, 0)
ax_grid.set_ylim(7.5, 49.21)
ax_grid.set_yticks(price_ticks)
grid_on(ax_grid)

ax_vbp = pane(20, 971, 1)
ax_vbp.set_ylim(7.5, 49.21)
ax_vbp.set_xlim(RIGHT-LEFT, 0)
ax_vbp.axis("off")
ax_vbp.barh(vbp_low + vbp_step*(np.arange(len(vbp_width))+.5), vbp_width, height=vbp_step*.93, color=(188/255,199/255,217/255,.55))

ax = pane(20, 971, 2)
ax.set_ylim(7.5, 49.21)
ax.set_xticks([])
ax.set_yticks(price_ticks)
ax.set_yticklabels(["%.2f" % v for v in price_ticks[:-1]] + [""])
ax.yaxis.tick_right()
ax.tick_params(axis="y", length=0, pad=-18.7, labelsize=7.7, labelcolor="#999999")
for t in ax.get_yticklabels():
    t.set_va("bottom")

candles = candles_feb_apr + candles_apr_jun + candles_jun_aug + candles_aug_oct + candles_oct_jan + candles_jan_mar + candles_mar_may
o, h, l, c = map(np.array, zip(*candles))
xs = np.arange(first_bar, first_bar+len(candles))
colors = [GREEN if cl >= op else RED for op, cl in zip(o, c)]
ax.vlines(xs, l, h, colors=colors, lw=0.95, zorder=3)
ax.bar(xs, np.abs(c-o), bottom=np.minimum(o, c), width=.56, color=colors, linewidth=.4, edgecolor=colors, zorder=3)

ax.axhline(21.89, color="#a0a0a0", lw=1.1, zorder=2)
ax.axhline(18.81, color="#777777", lw=.9, ls=(0, (4, 3)), zorder=2)

def pair_line(pts, color, lw=1.45):
    px, py = zip(*pts)
    ax.plot(px, py, color=color, lw=lw, zorder=4, solid_joinstyle="round")

pair_line(sma10, "#b3261e")
pair_line(sma20, "#6a1b9a")
pair_line(sma50, "#154a9c")
pair_line(sma100, "#ff8000")
pair_line(sma200, "#4a148c")
ax.plot(fan_x, ema5, color="#e64a19", lw=1.45, zorder=4)
ax.plot(fan_x, ema8, color="#e6d21c", lw=1.45, zorder=4)
ax.plot(fan_x, ema10, color="#76e01a", lw=1.45, zorder=4)
pair_line(ema21, "#ef6c00")
pair_line(ema50, "#1de9d6")
pair_line(ema100, "#5319e7")
pair_line(ema200, "#e91e78")
pair_line(vwap14, "#7c4dff")
ax.plot(fan_x, ema9, color="#e8491d", lw=1.45, zorder=4)
pair_line(ema23, "#3d7a3a")
ax.plot(fan_x, ema7, color="#1de9d6", lw=1.45, zorder=4)
ax.plot(fan_x, ema6, color="#651fff", lw=1.45, zorder=4)

# drawn levels
ax.hlines(19.73, 243.3, XLIM[1], color="#222222", lw=2.1, zorder=5)
ax.hlines(17.98, 290.2, XLIM[1], color="#222222", lw=2.1, zorder=5)
ax.text(243.3, 19.95, "19.75", fontsize=8.3, color="#222222", va="bottom", zorder=6)
ax.text(290.2, 18.2, "17.97", fontsize=8.3, color="#222222", va="bottom", zorder=6)

# volume pane
ax_vol = pane(971, 1091, 2)
ax_vol.set_ylim(0, 12.37)
ax_vol.set_yticks([0, 5, 10])
grid_on(ax_vol)
volume = vol_1 + vol_2 + vol_3 + vol_4
vol_x = np.arange(first_bar, first_bar+len(volume))
ax_vol.bar(vol_x, volume, width=.9, color=["#9adcb9" if d == "g" else "#ea7272" for d in vol_dirs], zorder=3)
vx, vy = zip(*vol_sma)
ax_vol.plot(vx, vy, color="#5319e7", lw=1.0, zorder=4)

# macd pane
ax_macd = pane(1091, 1212, 2)
ax_macd.set_ylim(-4.79, 3.73)
ax_macd.set_yticks([-2.5, 0, 2.5])
ax_macd.set_xticks(tick_pos)
ax_macd.grid(True, color=GRID, lw=1.0)
ax_macd.set_axisbelow(True)
ax_macd.set_xticklabels(tick_labels, fontsize=7.7, color="#8a8a8a")
ax_macd.tick_params(axis="x", length=6.5, width=.9, color="#888888", pad=1)
ax_macd.tick_params(axis="y", length=0, labelleft=False)
ax_macd.spines["bottom"].set_visible(True)
ax_macd.spines["bottom"].set_color("#888888")
ax_macd.spines["bottom"].set_linewidth(1.1)
hist = macd_hist_1 + macd_hist_2 + macd_hist_3
hist_x = np.arange(first_bar, first_bar+len(hist))
ax_macd.bar(hist_x, hist, width=.62, color=[GREEN if v >= 0 else RED for v in hist], zorder=3)
mx, my = zip(*macd_line)
ax_macd.plot(mx, my, color="#29b6f6", lw=1.0, zorder=4)
mx, my = zip(*macd_signal)
ax_macd.plot(mx, my, color="#ffb300", lw=1.0, zorder=4)

# everything else sits on a screen-pixel overlay
top = fig.add_axes([0, 0, 1, 1], zorder=5)
top.set_xlim(0, W)
top.set_ylim(H, 0)
top.axis("off")

top.plot([LEFT, RIGHT], [971, 971], color="#cccccc", lw=1.5)
top.plot([LEFT, RIGHT], [1091, 1091], color="#cccccc", lw=1.5)

top.text(972, 600, "CARG", fontsize=65, fontweight="bold", family="Liberation Sans", color="#f3f3f3", va="center", zorder=0)
top.text(974, 668, "CarGurus, Inc.", fontsize=28.6, family="Liberation Sans", color="#f3f3f3", va="center", zorder=0)

logo_x = [22, 33, 38, 42, 27, 35, 29, 31]
logo_y = [36, 29, 27, 42, 44, 38, 32, 40]
top.plot(logo_x, logo_y, ls="none", marker="o", ms=3.2, mfc="white", mec="#4f9a8c", mew=.8)
top.text(50, 35, "Trend", fontsize=18, fontweight="bold", family="Open Sans", color="#1a1a1a", va="center")
top.text(118, 35, "Spider", fontsize=18, family="Open Sans", color="#555555", va="center")
top.text(205, 36, "May 11, 2023 7:44AM EDT", fontsize=8.1, color="#333333", va="center")
top.text(23, 68, "CARG, Daily, Candles chart", fontsize=8.3, color="#333333", va="center")
for k, (name, col) in enumerate(zip(legend_names, legend_colors)):
    top.text(23, 94+20*k, name, fontsize=8.3, color=col, va="center")
top.text(23, 982, "Volume (Lower) (50, SMA), Daily", fontsize=8.3, color="#8a7bf0", va="center")
top.text(23, 1102, "MACD (12, 26, 9, ohlc4), Daily", fontsize=8.3, color="#cfc5ea", va="center")
top.text(20, 1249, "©2023 TrendSpider", fontsize=6.6, color="#444444", va="center")
top.text(RIGHT, 1206, "Exchange: EDT", fontsize=6.6, color="#777777", va="center", ha="right")
for val, yy in zip(["10M", "5M", "0"], [995, 1044, 1092]):
    top.text(RIGHT, yy, val, fontsize=7.7, color="#999999", va="center", ha="right")
for val, yy in zip(["2.500", "0.000", "−2.500"], [1110, 1145, 1181]):
    top.text(RIGHT, yy, val, fontsize=7.7, color="#999999", va="center", ha="right")

top.fill_between([2144, 2187], 704, 723, color=RED, lw=0)
top.text(2165.5, 713.5, "18.81", fontsize=7.7, fontweight="bold", color="white", va="center", ha="center")

fig.savefig("out.png", dpi=100, facecolor="white")
